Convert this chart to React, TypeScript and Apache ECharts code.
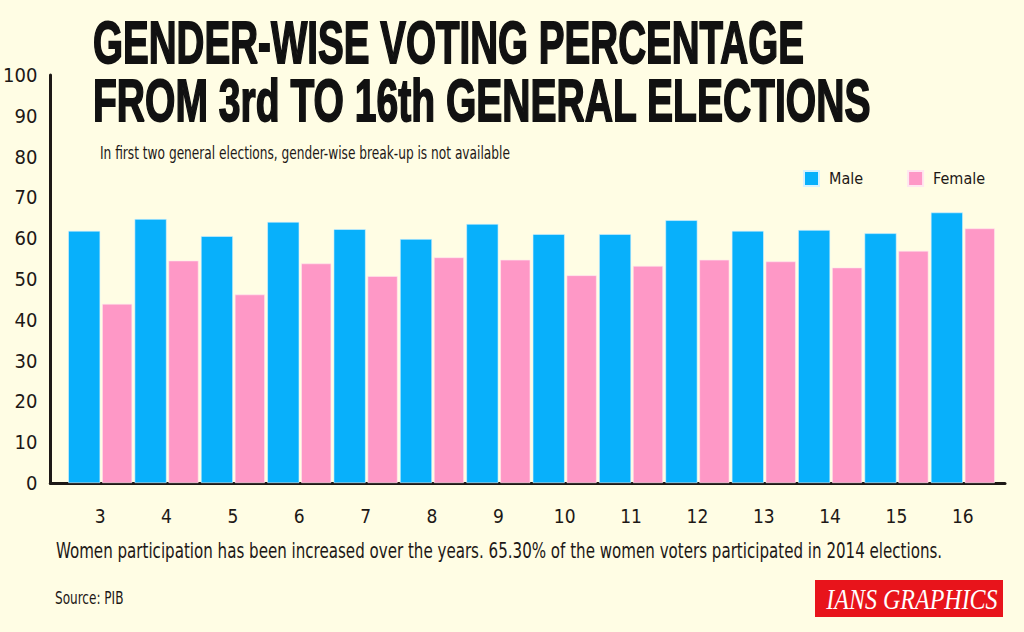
import React, { useEffect, useRef } from "react";
import * as echarts from "echarts";

const categories = ["3", "4", "5", "6", "7", "8", "9", "10", "11", "12", "13", "14", "15", "16"];
const maleValues = [61.8, 64.7, 60.5, 64.0, 62.2, 59.8, 63.5, 61.0, 61.0, 64.4, 61.8, 62.0, 61.2, 66.3];
const femaleValues = [43.9, 54.5, 46.2, 53.8, 50.7, 55.3, 54.7, 50.9, 53.2, 54.7, 54.3, 52.8, 56.9, 62.4];
const seriesNames = ["Male", "Female"];
const yMin = 0;
const yMax = 100;
const yStep = 10;

const titleLine1 = "GENDER-WISE VOTING PERCENTAGE";
const titleLine2 = "FROM 3rd TO 16th GENERAL ELECTIONS";
const subtitle = "In first two general elections, gender-wise break-up is not available";
const footnote =
  "Women participation has been increased over the years. 65.30% of the women voters participated in 2014 elections.";
const sourceText = "Source: PIB";
const brandText = "IANS GRAPHICS";

const NARROW = '"Liberation Sans Narrow", "DejaVu Sans Condensed", "Liberation Sans", sans-serif';
const BOLD = '"Liberation Sans", Arial, sans-serif';
const INK = "#1d1816";
const MALE = "#08b0fb";
const FEMALE = "#fe98c6";
const BG = "#fffde4";

export default function App() {
  const ref = useRef<HTMLDivElement>(null);
  useEffect(() => {
    if (!ref.current) return;
    const chart = echarts.init(ref.current, null, { renderer: "svg" });
    chart.setOption({
      animation: false,
      backgroundColor: BG,
      grid: [
        { left: 67, right: 28, top: 75, bottom: 149 },
        { left: 48, right: 19, top: 75, bottom: 149 },
      ],
      legend: {
        data: seriesNames,
        left: 803,
        top: 170,
        padding: 0,
        icon: "rect",
        itemWidth: 15,
        itemHeight: 15,
        itemGap: 44,
        textStyle: { fontFamily: NARROW, fontSize: 16, color: INK, padding: [0, 0, 0, 5] },
      },
      xAxis: [
        {
          type: "category",
          gridIndex: 0,
          data: categories,
          axisLine: { show: false },
          axisTick: { show: false },
          axisLabel: { fontFamily: NARROW, fontSize: 19, color: INK, margin: 23 },
        },
        {
          type: "value",
          gridIndex: 1,
          min: 0,
          max: 1,
          axisLine: { show: true, lineStyle: { color: INK, width: 3 } },
          axisTick: { show: false },
          axisLabel: { show: false },
          splitLine: { show: false },
        },
      ],
      yAxis: [
        {
          type: "value",
          gridIndex: 0,
          min: yMin,
          max: yMax,
          interval: yStep,
          show: false,
        },
        {
          type: "value",
          gridIndex: 1,
          min: yMin,
          max: yMax,
          interval: yStep,
          axisLine: { show: true, lineStyle: { color: INK, width: 3 } },
          axisTick: { show: false },
          splitLine: { show: false },
          axisLabel: { fontFamily: NARROW, fontSize: 20, color: INK, margin: 13 },
        },
      ],
      series: [
        {
          name: seriesNames[0],
          type: "bar",
          xAxisIndex: 0,
          yAxisIndex: 0,
          data: maleValues,
          barWidth: 32,
          barGap: "6%",
          itemStyle: { color: MALE, borderColor: "#d8f2ff", borderWidth: 0.6 },
        },
        {
          name: seriesNames[1],
          type: "bar",
          xAxisIndex: 0,
          yAxisIndex: 0,
          data: femaleValues,
          barWidth: 30,
          barGap: "6%",
          itemStyle: { color: FEMALE, borderColor: "#ffe6f0", borderWidth: 0.6 },
        },
      ],
      graphic: [
        {
          type: "text",
          x: 93,
          y: 42,
          scaleX: 0.643,
          style: {
            text: titleLine1,
            font: `bold 60px ${BOLD}`,
            fill: "#111",
            stroke: "#111",
            lineWidth: 1.8,
            textVerticalAlign: "middle",
          },
        },
        {
          type: "text",
          x: 93,
          y: 100,
          scaleX: 0.651,
          style: {
            text: titleLine2,
            font: `bold 60px ${BOLD}`,
            fill: "#111",
            stroke: "#111",
            lineWidth: 1.8,
            textVerticalAlign: "middle",
          },
        },
        {
          type: "text",
          x: 100,
          y: 153,
          scaleX: 0.797,
          style: { text: subtitle, font: `17px ${NARROW}`, fill: INK, textVerticalAlign: "middle" },
        },
        {
          type: "text",
          x: 56,
          y: 551,
          scaleX: 0.763,
          style: { text: footnote, font: `22px ${NARROW}`, fill: INK, textVerticalAlign: "middle" },
        },
        {
          type: "text",
          x: 55,
          y: 598,
          scaleX: 0.79,
          style: { text: sourceText, font: `17px ${NARROW}`, fill: INK, textVerticalAlign: "middle" },
        },
        {
          type: "rect",
          shape: { x: 815, y: 580, width: 188, height: 37 },
          style: { fill: "#e8141b" },
        },
        {
          type: "text",
          x: 912,
          y: 599,
          scaleX: 0.8,
          style: {
            text: brandText,
            font: `italic 30px "Liberation Serif", "DejaVu Serif", serif`,
            fill: "#fff",
            textAlign: "center",
            textVerticalAlign: "middle",
          },
        },
      ],
    });
    return () => chart.dispose();
  }, []);
  return (
    <div
      ref={ref}
      style={{ position: "absolute", left: 0, top: 0, width: 1024, height: 632 }}
    />
  );
}
